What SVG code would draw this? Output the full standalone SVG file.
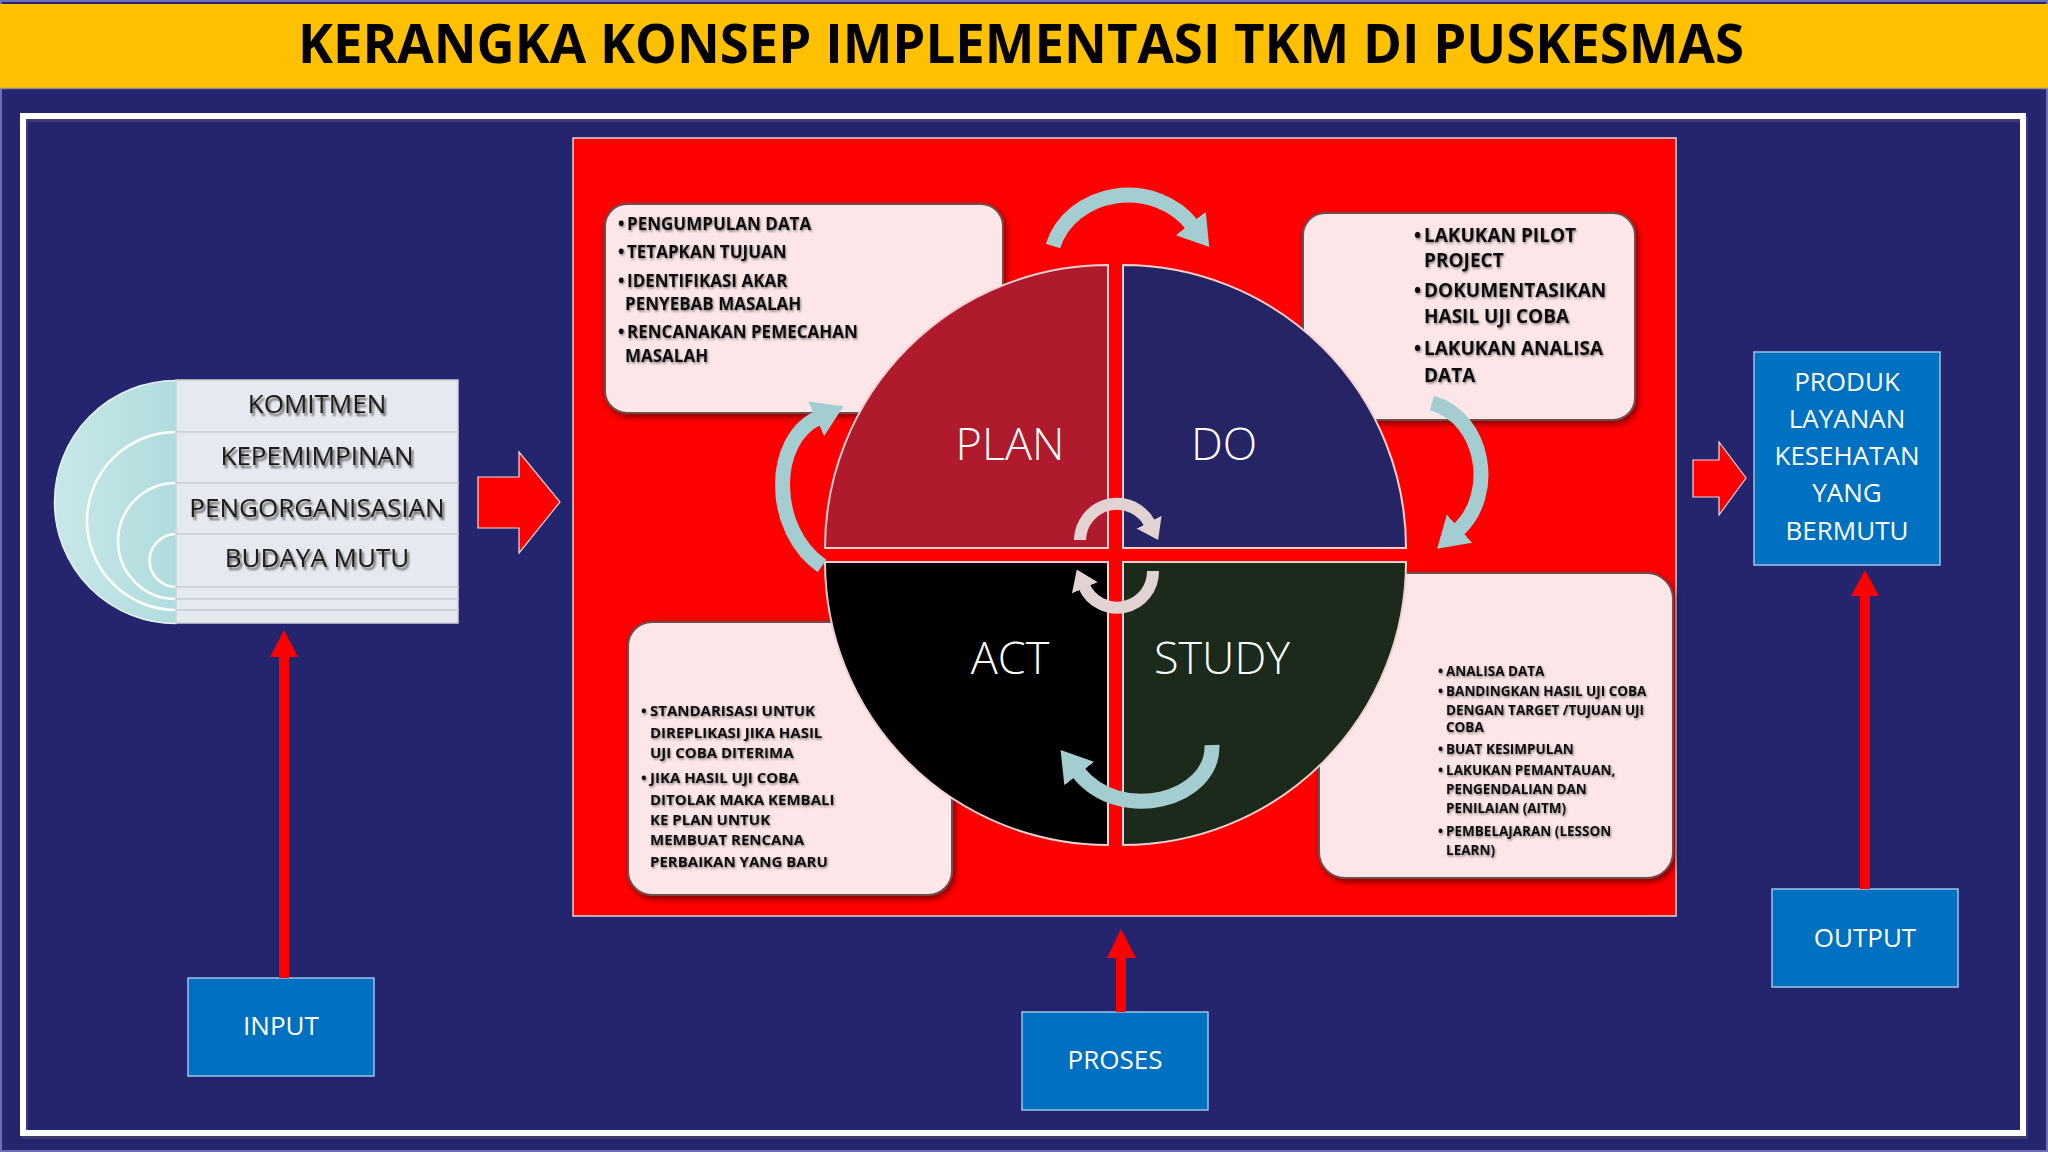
<svg xmlns="http://www.w3.org/2000/svg" width="2048" height="1152" viewBox="0 0 2048 1152">
  <style>
    .bx { fill: #0070C0; stroke: #9DC3E6; stroke-width: 1.5; }
    .bxt { font-family: "Open Sans", "Liberation Sans", sans-serif; font-size: 26px; fill: #FFFFFF; text-anchor: middle; }
    .red { fill: #FF0000; stroke: #F2DCDB; stroke-width: 1.2; }
    .tbox { fill: #FCE6E7; stroke: #6E4E4E; stroke-width: 2; }
    .bt { font-family: "Open Sans", "Liberation Sans", sans-serif; font-weight: bold; fill: #111111; }
    .lst { font-family: "Open Sans", "Liberation Sans", sans-serif; font-size: 26px; fill: #1A1A1A; text-anchor: middle; }
    .q { stroke: #F3CFCF; stroke-width: 2; }
    .ql { font-family: "Open Sans", "Liberation Sans", sans-serif; font-size: 45px; fill: #FFFFFF; text-anchor: middle; font-weight: 300; }
    .teal { fill: none; stroke: #A3CDD0; stroke-width: 15; }
    .pale { fill: none; stroke: #E3D2D2; stroke-width: 12; }
    .row { fill: #E6E9F0; stroke: #C9CED8; stroke-width: 1.5; }
  </style>
  <defs>
    <filter id="ts" x="-5%" y="-30%" width="115%" height="170%">
      <feDropShadow dx="2" dy="3" stdDeviation="1.3" flood-color="#000000" flood-opacity="0.6"/>
    </filter>
    <filter id="ts2" x="-5%" y="-30%" width="115%" height="170%">
      <feDropShadow dx="1" dy="1.5" stdDeviation="0.8" flood-color="#000000" flood-opacity="0.45"/>
    </filter>
    <filter id="bs" x="-5%" y="-5%" width="115%" height="115%">
      <feDropShadow dx="2" dy="3" stdDeviation="3" flood-color="#000000" flood-opacity="0.5"/>
    </filter>
    <linearGradient id="disc" x1="0" y1="0" x2="1" y2="0">
      <stop offset="0" stop-color="#C8E8E9"/>
      <stop offset="1" stop-color="#B0DCDD"/>
    </linearGradient>
    <marker id="th" markerUnits="userSpaceOnUse" markerWidth="32" markerHeight="38" viewBox="0 0 32 38" refX="2" refY="19" orient="auto">
      <path d="M0,0 L30,19 L0,38 Z" fill="#A3CDD0"/>
    </marker>
    <marker id="ph" markerUnits="userSpaceOnUse" markerWidth="22" markerHeight="28" viewBox="0 0 22 28" refX="2" refY="14" orient="auto">
      <path d="M0,0 L20,14 L0,28 Z" fill="#E3D2D2"/>
    </marker>
  </defs>

  <!-- background -->
  <rect x="0" y="0" width="2048" height="1152" fill="#24246F"/>
  <rect x="1" y="1" width="2046" height="1150" fill="none" stroke="#6D6DB5" stroke-width="2"/>

  <!-- title -->
  <g id="title">
    <rect x="0" y="4" width="2048" height="84" fill="#FFC000"/>
    <line x1="0" y1="88.5" x2="2048" y2="88.5" stroke="#8A8A8A" stroke-width="1.5"/>
    <text x="1021" y="63" font-family="Open Sans, Liberation Sans, sans-serif" font-weight="bold" font-size="54" text-anchor="middle" textLength="1446" lengthAdjust="spacingAndGlyphs" fill="#000000">KERANGKA KONSEP IMPLEMENTASI TKM DI PUSKESMAS</text>
  </g>

  <!-- white frame -->
  <g id="frame">
    <rect x="25" y="119" width="2000" height="1017" fill="none" stroke="#555577" stroke-width="6" opacity="0.5"/>
    <rect x="23" y="116" width="2000" height="1017" fill="none" stroke="#FFFFFF" stroke-width="6"/>
  </g>

  <!-- input panel -->
  <g id="input-panel">
    <path d="M176 380.5 A121.5 121.5 0 0 0 176 623.5 Z" fill="url(#disc)" stroke="#E6F4F4" stroke-width="1.5"/>
    <path d="M176 432 A89 89 0 0 0 176 610" fill="none" stroke="#FFFFFF" stroke-width="2.5"/>
    <path d="M176 483 A58 58 0 0 0 176 599" fill="none" stroke="#FFFFFF" stroke-width="2.5"/>
    <path d="M176 534 A26.5 26.5 0 0 0 176 587" fill="none" stroke="#FFFFFF" stroke-width="2.5"/>
    <rect class="row" x="176" y="380" width="282" height="52"/>
    <rect class="row" x="176" y="432" width="282" height="51"/>
    <rect class="row" x="176" y="483" width="282" height="51"/>
    <rect class="row" x="176" y="534" width="282" height="53"/>
    <rect class="row" x="176" y="587" width="282" height="12"/>
    <rect class="row" x="176" y="599" width="282" height="11"/>
    <rect class="row" x="176" y="610" width="282" height="13"/>
    <g filter="url(#ts)">
      <text class="lst" x="317" y="413">KOMITMEN</text>
      <text class="lst" x="317" y="465">KEPEMIMPINAN</text>
      <text class="lst" x="317" y="517">PENGORGANISASIAN</text>
      <text class="lst" x="317" y="567">BUDAYA MUTU</text>
    </g>
  </g>

  <!-- PDSA panel -->
  <g id="pdsa-panel">
    <rect x="573" y="138" width="1103" height="778" fill="#FF0000" stroke="#D9D9D9" stroke-width="1.5"/>
  </g>

  <g id="box-plan">
    <rect class="tbox" x="605" y="204" width="398" height="209" rx="22" filter="url(#bs)"/>
    <g class="bt" font-size="17" filter="url(#ts2)">
      <text y="230"><tspan x="618">•</tspan><tspan x="627">PENGUMPULAN DATA</tspan></text>
      <text y="258"><tspan x="618">•</tspan><tspan x="627">TETAPKAN TUJUAN</tspan></text>
      <text y="287"><tspan x="618">•</tspan><tspan x="627">IDENTIFIKASI AKAR</tspan></text>
      <text y="310"><tspan x="625">PENYEBAB MASALAH</tspan></text>
      <text y="338"><tspan x="618">•</tspan><tspan x="627">RENCANAKAN PEMECAHAN</tspan></text>
      <text y="362"><tspan x="625">MASALAH</tspan></text>
    </g>
  </g>

  <g id="box-do">
    <rect class="tbox" x="1303" y="213" width="332" height="207" rx="22" filter="url(#bs)"/>
    <g class="bt" font-size="19" filter="url(#ts2)">
      <text y="242"><tspan x="1414">•</tspan><tspan x="1424">LAKUKAN PILOT</tspan></text>
      <text y="267"><tspan x="1424">PROJECT</tspan></text>
      <text y="297"><tspan x="1414">•</tspan><tspan x="1424">DOKUMENTASIKAN</tspan></text>
      <text y="323"><tspan x="1424">HASIL UJI COBA</tspan></text>
      <text y="355"><tspan x="1414">•</tspan><tspan x="1424">LAKUKAN ANALISA</tspan></text>
      <text y="382"><tspan x="1424">DATA</tspan></text>
    </g>
  </g>

  <g id="box-act">
    <rect class="tbox" x="628" y="622" width="324" height="273" rx="24" filter="url(#bs)"/>
    <g class="bt" font-size="15" filter="url(#ts2)">
      <text y="716"><tspan x="641">•</tspan><tspan x="650">STANDARISASI UNTUK</tspan></text>
      <text y="738"><tspan x="650">DIREPLIKASI JIKA HASIL</tspan></text>
      <text y="758"><tspan x="650">UJI COBA DITERIMA</tspan></text>
      <text y="783"><tspan x="641">•</tspan><tspan x="650">JIKA HASIL UJI COBA</tspan></text>
      <text y="805"><tspan x="650">DITOLAK MAKA KEMBALI</tspan></text>
      <text y="825"><tspan x="650">KE PLAN UNTUK</tspan></text>
      <text y="845"><tspan x="650">MEMBUAT RENCANA</tspan></text>
      <text y="867"><tspan x="650">PERBAIKAN YANG BARU</tspan></text>
    </g>
  </g>

  <g id="box-study">
    <rect class="tbox" x="1319" y="573" width="354" height="305" rx="26" filter="url(#bs)"/>
    <g class="bt" font-size="13.5" filter="url(#ts2)">
      <text y="676"><tspan x="1438">•</tspan><tspan x="1446">ANALISA DATA</tspan></text>
      <text y="696"><tspan x="1438">•</tspan><tspan x="1446">BANDINGKAN HASIL UJI COBA</tspan></text>
      <text y="715"><tspan x="1446">DENGAN TARGET /TUJUAN UJI</tspan></text>
      <text y="732"><tspan x="1446">COBA</tspan></text>
      <text y="754"><tspan x="1438">•</tspan><tspan x="1446">BUAT KESIMPULAN</tspan></text>
      <text y="775"><tspan x="1438">•</tspan><tspan x="1446">LAKUKAN PEMANTAUAN,</tspan></text>
      <text y="794"><tspan x="1446">PENGENDALIAN DAN</tspan></text>
      <text y="813"><tspan x="1446">PENILAIAN (AITM)</tspan></text>
      <text y="836"><tspan x="1438">•</tspan><tspan x="1446">PEMBELAJARAN (LESSON</tspan></text>
      <text y="855"><tspan x="1446">LEARN)</tspan></text>
    </g>
  </g>

  <!-- PDSA circle -->
  <g id="q-plan">
    <path class="q" d="M1108 548 L825 548 A283 283 0 0 1 1108 265 Z" fill="#AF1A2D"/>
    <text class="ql" x="1010" y="460">PLAN</text>
  </g>
  <g id="q-do">
    <path class="q" d="M1123 548 L1123 265 A283 283 0 0 1 1406 548 Z" fill="#252566"/>
    <text class="ql" x="1224" y="460">DO</text>
  </g>
  <g id="q-study">
    <path class="q" d="M1123 562 L1406 562 A283 283 0 0 1 1123 845 Z" fill="#1B2A1B"/>
    <text class="ql" x="1222" y="674">STUDY</text>
  </g>
  <g id="q-act">
    <path class="q" d="M1108 562 L1108 845 A283 283 0 0 1 825 562 Z" fill="#000000"/>
    <text class="ql" x="1010" y="674">ACT</text>
  </g>

  <!-- nodes: input / proses / output / produk -->
  <g id="node-input">
    <rect class="bx" x="188" y="978" width="186" height="98"/>
    <text class="bxt" x="281" y="1035">INPUT</text>
  </g>
  <g id="node-proses">
    <rect class="bx" x="1022" y="1012" width="186" height="98"/>
    <text class="bxt" x="1115" y="1069">PROSES</text>
  </g>
  <g id="node-output">
    <rect class="bx" x="1772" y="889" width="186" height="98"/>
    <text class="bxt" x="1865" y="947">OUTPUT</text>
  </g>
  <g id="node-produk">
    <rect class="bx" x="1754" y="352" width="186" height="213"/>
    <text class="bxt" x="1847" y="391">PRODUK</text>
    <text class="bxt" x="1847" y="428">LAYANAN</text>
    <text class="bxt" x="1847" y="465">KESEHATAN</text>
    <text class="bxt" x="1847" y="502">YANG</text>
    <text class="bxt" x="1847" y="540">BERMUTU</text>
  </g>

  <!-- connectors -->
  <g id="connectors">
    <polygon class="red" points="478,477 519,477 519,452 560,502 519,553 519,528 478,528"/>
    <polygon class="red" points="1693,460 1719,460 1719,442 1746,478 1719,515 1719,497 1693,497"/>
    <polygon fill="#FF0000" points="279,978 289,978 289,657 298,657 284,630 270,657 279,657"/>
    <polygon fill="#FF0000" points="1116,1012 1126,1012 1126,958 1136,958 1121,929 1107,958 1116,958"/>
    <polygon fill="#FF0000" points="1860,889 1870,889 1870,596 1879,596 1865,570 1851,596 1860,596"/>

    <path class="teal" d="M1053 246 A78 70 0 0 1 1192 225" marker-end="url(#th)"/>
    <path class="teal" d="M1432 403 C1485 418 1497 495 1458 530" marker-end="url(#th)"/>
    <path class="teal" d="M1212 745 C1214 800 1120 825 1078 772" marker-end="url(#th)"/>
    <path class="teal" d="M822 566 C770 530 770 440 818 418" marker-end="url(#th)"/>
    <path class="pale" d="M1080 540 A37 37 0 0 1 1150 524" marker-end="url(#ph)"/>
    <path class="pale" d="M1153 571 A36 36 0 0 1 1084 586" marker-end="url(#ph)"/>
  </g>
</svg>
